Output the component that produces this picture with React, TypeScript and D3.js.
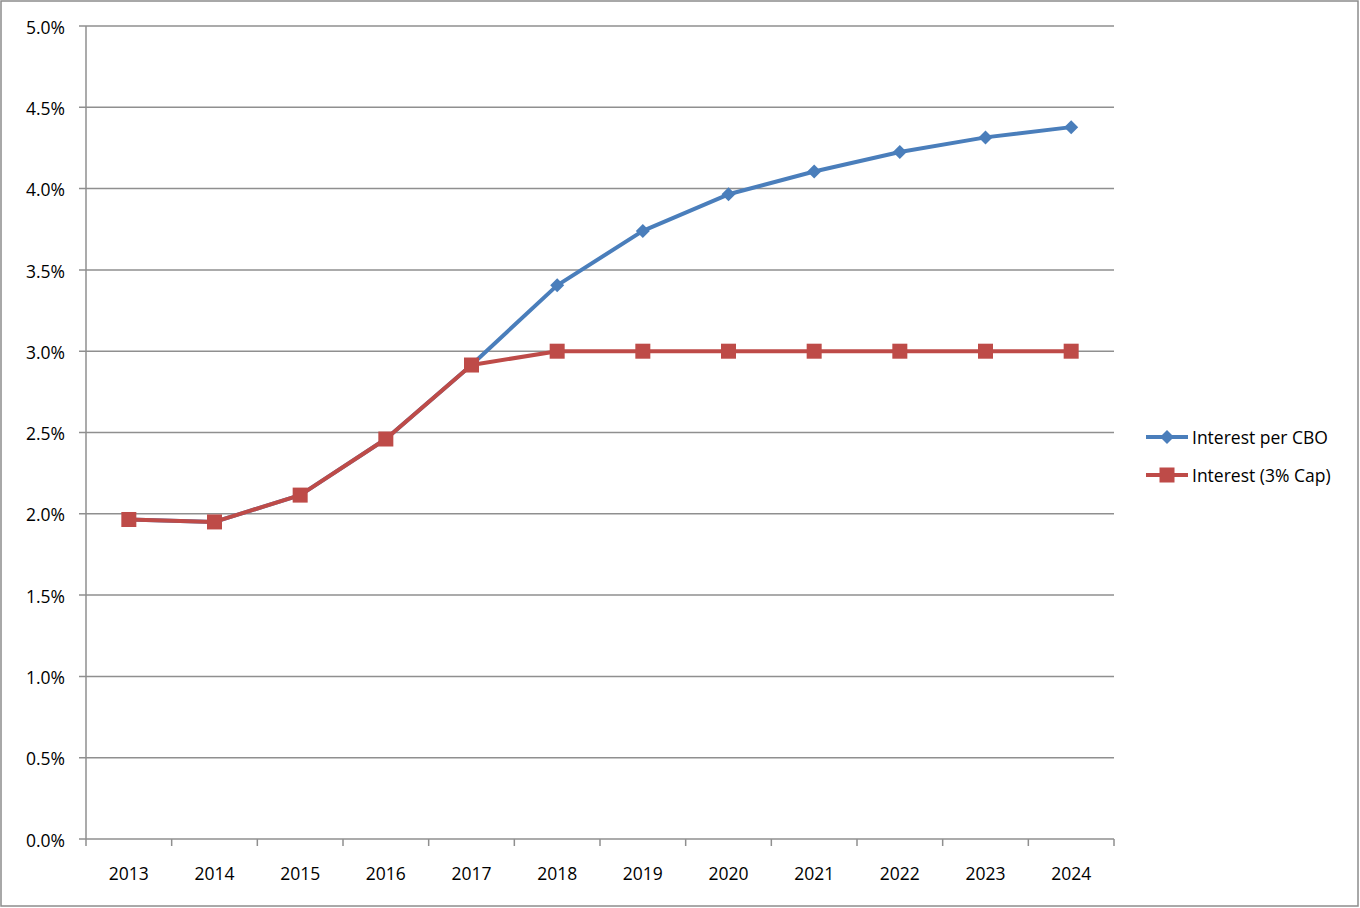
import React from "react";
import * as d3 from "d3";

const years = ["2013","2014","2015","2016","2017","2018","2019","2020","2021","2022","2023","2024"];
const cboValues = [1.965, 1.95, 2.115, 2.46, 2.915, 3.405, 3.74, 3.965, 4.105, 4.225, 4.315, 4.378];
const capValues = [1.965, 1.95, 2.115, 2.46, 2.915, 3.0, 3.0, 3.0, 3.0, 3.0, 3.0, 3.0];
const yTicks = [0, 0.5, 1, 1.5, 2, 2.5, 3, 3.5, 4, 4.5, 5];
const seriesNames = ["Interest per CBO", "Interest (3% Cap)"];

const W = 1360, H = 908;
const left = 86, right = 1114, top = 26, bottom = 839;
const BLUE = "#4A7EBB";
const RED = "#BE4B48";
const FONT = "'Open Sans', 'DejaVu Sans', sans-serif";
const FS = 17.5;

export default function App() {
  const x = d3.scaleBand<string>().domain(years).range([left, right]);
  const y = d3.scaleLinear().domain([0, 5]).range([bottom, top]);
  const cx = (d: string) => (x(d) as number) + x.bandwidth() / 2;
  const line = d3.line<number>().x((_, i) => cx(years[i])).y((v) => y(v));

  const diamond = (px: number, py: number, s: number) =>
    `M${px},${py - s}L${px + s},${py}L${px},${py + s}L${px - s},${py}Z`;

  const boundaries = [...years.map((d) => x(d) as number), right];

  return (
    <svg width={W} height={H} style={{ position: "absolute", left: 0, top: 0 }}>
      <rect x={0} y={0} width={W} height={H} fill="#fff" />
      <rect x={1} y={1} width={W - 3} height={H - 3} fill="none" stroke="#8c8c8c" strokeWidth={1.5} />
      {yTicks.map((t) => (
        <g key={t}>
          <line x1={left - 7} x2={t === 0 ? left : right} y1={y(t)} y2={y(t)} stroke="#8f8f8f" strokeWidth={1.5} />
          <text x={65} y={y(t) + 1.5} dy="0.35em" textAnchor="end" fontFamily={FONT} fontSize={FS} fill="#000">
            {t.toFixed(1)}%
          </text>
        </g>
      ))}
      <line x1={left} x2={left} y1={top} y2={bottom} stroke="#8f8f8f" strokeWidth={1.5} />
      <line x1={left} x2={right} y1={bottom} y2={bottom} stroke="#8f8f8f" strokeWidth={1.5} />
      {boundaries.map((b, i) => (
        <line key={i} x1={b} x2={b} y1={bottom} y2={bottom + 7} stroke="#8f8f8f" strokeWidth={1.5} />
      ))}
      {years.map((d) => (
        <text key={d} x={cx(d)} y={874} dy="0.35em" textAnchor="middle" fontFamily={FONT} fontSize={FS} fill="#000">
          {d}
        </text>
      ))}
      <path d={line(cboValues) || ""} fill="none" stroke={BLUE} strokeWidth={4} strokeLinejoin="round" />
      {cboValues.map((v, i) => (
        <path key={i} d={diamond(cx(years[i]), y(v), 7)} fill={BLUE} />
      ))}
      <path d={line(capValues) || ""} fill="none" stroke={RED} strokeWidth={4} strokeLinejoin="round" />
      {capValues.map((v, i) => (
        <rect key={i} x={cx(years[i]) - 7.5} y={y(v) - 7.5} width={15} height={15} fill={RED} />
      ))}
      <g>
        <line x1={1146} x2={1188} y1={437} y2={437} stroke={BLUE} strokeWidth={4} />
        <path d={diamond(1167, 437, 7)} fill={BLUE} />
        <text x={1192} y={438} dy="0.35em" fontFamily={FONT} fontSize={FS} fill="#000">{seriesNames[0]}</text>
        <line x1={1146} x2={1188} y1={475} y2={475} stroke={RED} strokeWidth={4} />
        <rect x={1159.5} y={467.5} width={15} height={15} fill={RED} />
        <text x={1192} y={476} dy="0.35em" fontFamily={FONT} fontSize={FS} fill="#000">{seriesNames[1]}</text>
      </g>
    </svg>
  );
}
